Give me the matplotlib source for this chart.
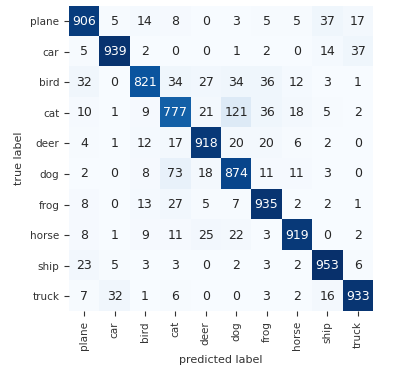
import numpy as np
import matplotlib
matplotlib.use("Agg")
import matplotlib.pyplot as plt

classes = ["plane", "car", "bird", "cat", "deer", "dog", "frog", "horse", "ship", "truck"]
row_plane = [906, 5, 14, 8, 0, 3, 5, 5, 37, 17]
row_car = [5, 939, 2, 0, 0, 1, 2, 0, 14, 37]
row_bird = [32, 0, 821, 34, 27, 34, 36, 12, 3, 1]
row_cat = [10, 1, 9, 777, 21, 121, 36, 18, 5, 2]
row_deer = [4, 1, 12, 17, 918, 20, 20, 6, 2, 0]
row_dog = [2, 0, 8, 73, 18, 874, 11, 11, 3, 0]
row_frog = [8, 0, 13, 27, 5, 7, 935, 2, 2, 1]
row_horse = [8, 1, 9, 11, 25, 22, 3, 919, 0, 2]
row_ship = [23, 5, 3, 3, 0, 2, 3, 2, 953, 6]
row_truck = [7, 32, 1, 6, 0, 0, 3, 2, 16, 933]

cm = np.array([row_plane, row_car, row_bird, row_cat, row_deer,
               row_dog, row_frog, row_horse, row_ship, row_truck])

fig = plt.figure(figsize=(4.12, 3.77), dpi=100)
ax = fig.add_axes([0.1675, 0.174, 0.7375, 0.81])
ax.imshow(cm, cmap="Blues", aspect="auto", vmin=cm.min(), vmax=cm.max())
thresh = cm.max() / 2
for i in range(cm.shape[0]):
    for j in range(cm.shape[1]):
        v = cm[i, j]
        ax.text(j, i, str(v), ha="center", va="center", fontsize=9,
                color="white" if v > thresh else "#262626")
ax.set_xticks(range(len(classes)))
ax.set_yticks(range(len(classes)))
ax.set_xticklabels(classes, rotation=90, fontsize=7.5, color="#333333")
ax.set_yticklabels(classes, fontsize=7.5, color="#333333")
ax.tick_params(length=3.5, width=0.8, color="#333333")
for s in ax.spines.values():
    s.set_visible(False)
ax.set_xlabel("predicted label", fontsize=8, color="#333333", labelpad=3)
ax.set_ylabel("true label", fontsize=8, color="#333333")
fig.savefig("out.png", dpi=100)
